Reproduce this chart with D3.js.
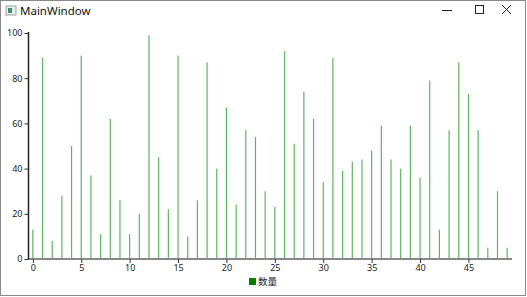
<!DOCTYPE html>
<html>
<head>
<meta charset="utf-8">
<script src="https://cdn.jsdelivr.net/npm/d3@7"></script>
<style>
    body { margin: 0; background: #fff; }
    svg text { font-family: "Noto Sans", "Noto Sans CJK SC", sans-serif; }
</style>
</head>
<body>
<svg id="chart"></svg>
<script>
// bar values, one per category index 0..49
const categories = d3.range(0, 50);
const values = [13, 89, 8, 28, 50, 90, 37, 11, 62, 26,
                11, 20, 99, 45, 22, 90, 10, 26, 87, 40,
                67, 24, 57, 54, 30, 23, 92, 51, 74, 62,
                34, 89, 39, 43, 44, 48, 59, 44, 40, 59,
                36, 79, 13, 57, 87, 73, 57, 5, 30, 5];
const xTicks = [0, 5, 10, 15, 20, 25, 30, 35, 40, 45];
const yTicks = [0, 20, 40, 60, 80, 100];
const seriesName = "数量";

const config = {
    width: 527,
    height: 297,
    margin: { top: 33, right: 15, bottom: 38, left: 28 },
};

const svg = d3.select("#chart")
    .attr("width", config.width)
    .attr("height", config.height);

// window chrome
svg.append("rect")
    .attr("x", 0.5).attr("y", 0.5)
    .attr("width", 525).attr("height", 295)
    .attr("fill", "#fff")
    .attr("stroke", "#8a8a8a");

const icon = svg.append("g").attr("transform", "translate(6, 6)");
icon.append("rect").attr("width", 10).attr("height", 9).attr("fill", "#e8eef0").attr("stroke", "#9aa4aa");
icon.append("rect").attr("x", 2).attr("y", 2).attr("width", 4).attr("height", 5).attr("fill", "#3f8f6a");

svg.append("text")
    .attr("x", 20).attr("y", 15)
    .attr("font-size", 11.5)
    .attr("fill", "#111")
    .text("MainWindow");

const btn = svg.append("g").attr("stroke", "#222").attr("stroke-width", 1).attr("fill", "none");
btn.append("line").attr("x1", 442).attr("x2", 452).attr("y1", 10.5).attr("y2", 10.5);
btn.append("rect").attr("x", 475.5).attr("y", 5.5).attr("width", 8).attr("height", 8);
btn.append("line").attr("x1", 502).attr("x2", 511).attr("y1", 5).attr("y2", 14);
btn.append("line").attr("x1", 511).attr("x2", 502).attr("y1", 5).attr("y2", 14);

// plot
const plotBottom = 259;
const xScale = d3.scaleLinear()
    .domain([-0.5, 49.5])
    .range([config.margin.left, 512]);
const yScale = d3.scaleLinear()
    .domain([0, 100])
    .range([plotBottom, config.margin.top]);

svg.append("g")
    .selectAll(".bar")
    .data(categories)
    .join("rect")
    .attr("class", "bar")
    .attr("x", (d) => xScale(d) - 0.6)
    .attr("width", 1.2)
    .attr("y", (d) => yScale(values[d]))
    .attr("height", (d) => plotBottom - yScale(values[d]))
    .attr("fill", "#5cb85c");

const xAxis = d3.axisBottom(xScale)
    .tickValues(xTicks)
    .tickSize(4)
    .tickPadding(2);

const yAxis = d3.axisLeft(yScale)
    .tickValues(yTicks)
    .tickSize(4)
    .tickPadding(2);

const xAxisGroup = svg.append("g")
    .attr("transform", `translate(0, ${plotBottom})`)
    .call(xAxis);
xAxisGroup.select(".domain")
    .attr("d", `M${config.margin.left},0H512`)
    .attr("stroke", "#888")
    .attr("stroke-width", 2);

const yAxisGroup = svg.append("g")
    .attr("transform", `translate(${config.margin.left + 0.5}, 0)`)
    .call(yAxis);
yAxisGroup.select(".domain")
    .attr("d", `M0,${config.margin.top - 1}V${plotBottom}`)
    .attr("stroke", "#222")
    .attr("stroke-width", 1.5);

[xAxisGroup, yAxisGroup].forEach((g) => {
    g.selectAll(".tick line").attr("stroke", "#333");
    g.selectAll(".tick text")
        .attr("font-size", 9)
        .attr("fill", "#222")
        .attr("font-family", "Noto Sans, sans-serif");
});

// legend
const legend = svg.append("g").attr("transform", "translate(249, 278)");
legend.append("rect")
    .attr("width", 7).attr("height", 7)
    .attr("fill", "#008000");
legend.append("text")
    .attr("x", 9).attr("y", 7)
    .attr("font-size", 9.5)
    .attr("fill", "#222")
    .attr("font-family", "Noto Sans CJK SC, sans-serif")
    .text(seriesName);
</script>
</body>
</html>
